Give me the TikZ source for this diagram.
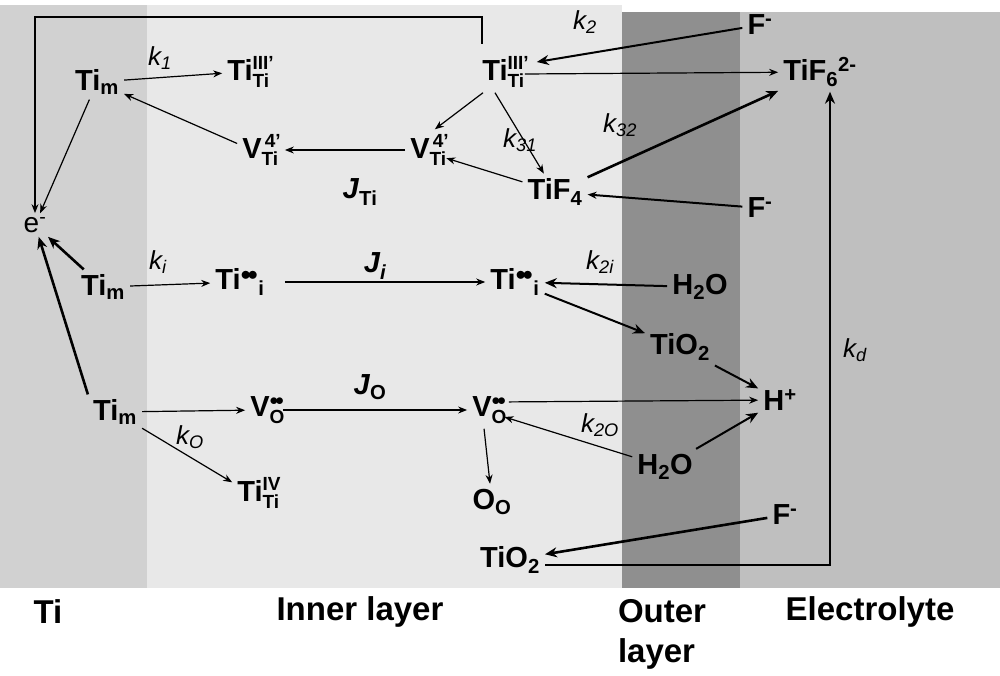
\documentclass[tikz,border=0pt]{standalone}
\usepackage{fontspec}
\setmainfont{Liberation Sans}
\usetikzlibrary{arrows.meta}
\newcommand\mysupsub[2]{\sbox0{\fontsize{19}{19}\selectfont #1}\sbox2{\fontsize{19}{19}\selectfont #2}\rlap{\raisebox{11pt}{\usebox0}}\rlap{\raisebox{-7pt}{\usebox2}}\hspace{\ifdim\wd0>\wd2 \wd0\else\wd2\fi}}
\newcommand\mydots{\ensuremath{\bullet\!\bullet}}
\newcommand\mytid{\textsuperscript{\mydots}\textsubscript{i}}
\begin{document}
\begin{tikzpicture}[x=1pt,y=-1pt,
 sp/.style={font=\fontsize{29}{31}\selectfont\bfseries,inner sep=5pt},
 lb/.style={font=\fontsize{26}{28}\selectfont\itshape,inner sep=1pt},
 ar/.style={-{Stealth[length=9pt,width=7pt]},line width=1.2pt},
 ab/.style={-{Stealth[length=12pt,width=10pt]},line width=2.6pt},
 rg/.style={font=\fontsize{33}{40}\selectfont\bfseries}]
\useasboundingbox (0,0) rectangle (1000,676);
\fill[white] (0,0) rectangle (1000,676);
\fill[black!18] (0,5) rectangle (147,588);
\fill[black!9] (147,5) rectangle (622,588);
\fill[black!44] (622,12) rectangle (740,588);
\fill[black!25] (740,12) rectangle (1000,588);
% nodes
\node[sp] (tm1) at (97,82) {Ti\textsubscript{m}};
\node[sp] (t31) at (240,72) {Ti\mysupsub{III'}{Ti}};
\node[sp] (t32) at (495,72) {Ti\mysupsub{III'}{Ti}};
\node[sp] (tf6) at (820,72) {TiF\textsubscript{6}\textsuperscript{2-}};
\node[sp] (f1) at (760,25) {F\textsuperscript{-}};
\node[sp] (v1) at (252,150) {V\mysupsub{\,4'}{Ti}};
\node[sp] (v2) at (420,150) {V\mysupsub{\,4'}{Ti}};
\node[sp] (jti) at (360,192) {\textit{J}\textsubscript{Ti}};
\node[sp] (tf4) at (555,192) {TiF\textsubscript{4}};
\node[sp] (f2) at (760,208) {F\textsuperscript{-}};
\node[font=\fontsize{28}{30}\selectfont,inner sep=4pt] (e) at (35,225) {e\textsuperscript{-}};
\node[sp] (tm2) at (103,287) {Ti\textsubscript{m}};
\node[sp] (ti1) at (240,282) {Ti\mytid};
\node[sp] (ti2) at (515,282) {Ti\mytid};
\node[sp] (h1) at (700,287) {H\textsubscript{2}O};
\node[sp] (to1) at (680,347) {TiO\textsubscript{2}};
\node[sp] (hp) at (780,400) {H\textsuperscript{+}};
\node[sp] (tm3) at (115,412) {Ti\textsubscript{m}};
\node[sp] (vo1) at (260,410) {V\mysupsub{\mydots}{O}};
\node[sp] (vo2) at (482,410) {V\mysupsub{\mydots}{O}};
\node[sp] (h2) at (665,467) {H\textsubscript{2}O};
\node[sp] (tiv) at (250,493) {Ti\mysupsub{IV}{Ti}};
\node[sp] (oo) at (492,502) {O\textsubscript{O}};
\node[sp] (f3) at (785,515) {F\textsuperscript{-}};
\node[sp] (to2) at (510,560) {TiO\textsubscript{2}};
% labels
\node[lb] at (160,58) {k\textsubscript{1}};
\node[lb] at (158,262) {k\textsubscript{i}};
\node[lb] at (190,437) {k\textsubscript{O}};
\node[lb] at (520,140) {k\textsubscript{31}};
\node[lb] at (620,125) {k\textsubscript{32}};
\node[lb] at (585,22) {k\textsubscript{2}};
\node[lb] at (600,262) {k\textsubscript{2i}};
\node[lb] at (600,425) {k\textsubscript{2O}};
\node[lb] at (855,350) {k\textsubscript{d}};
\node[sp] at (375,266) {\textit{J\textsubscript{i}}};
\node[sp] at (370,387) {\textit{J}\textsubscript{O}};
\node[rg] at (48,612) {Ti};
\node[rg] at (360,612) {Inner layer};
\node[rg,align=left] at (662,634) {Outer\\layer};
\node[rg] at (870,612) {Electrolyte};
% arrows
\coordinate (tp) at (482,44);
\draw[ar] (tp) -- ++(0,-27) -| (e.north);
\draw[ar] (tm1) -- (e);
\draw[ar] (tm1) -- (t31);
\draw[ar] (v1) -- (tm1);
\draw[ar,shorten >=18pt] (v2) -- (v1);
\draw[ar] ([xshift=-12pt]t32.south) -- (v2.north east);
\draw[ar,shorten >=12pt] (tf4) -- (v2);
\draw[ar] (t32.south) -- (tf4);
\draw[ab,line width=2pt] (f1) -- ([xshift=24pt,yshift=10pt]t32.east);
\draw[ar] ([xshift=12pt,yshift=-2pt]t32.east) -- (tf6);
\draw[ab] (tf4) -- (tf6);
\draw[ar,line width=2pt] (f2) -- (tf4);
\draw[ab] (tm2) -- (e);
\draw[ab] (tm3.north west) -- (e);
\draw[ar] (tm2) -- (ti1);
\draw[ar,shorten <=15pt] (ti1) -- (ti2);
\draw[ab,line width=2pt] (h1) -- (ti2);
\draw[ab,line width=2pt] (ti2) -- (to1);
\draw[ab,line width=2pt] (to1) -- (hp);
\draw[ar] (tm3) -- (vo1);
\draw[ar] (tm3) -- (tiv);
\draw[ar,shorten <=8pt] (vo1) -- (vo2);
\draw[ar,shorten <=12pt] ([yshift=8pt]vo2.east) -- (hp);
\draw[ar,shorten >=8pt] (h2) -- (vo2);
\draw[ab,line width=2pt] (h2) -- (hp);
\draw[ar] (vo2) -- (oo);
\draw[ab] (f3) -- (to2);
\draw[ab] (to2.east) ++(0,5) -- ++(285,0) coordinate (kk) -- (kk |- tf6.south);
\end{tikzpicture}
\end{document}
